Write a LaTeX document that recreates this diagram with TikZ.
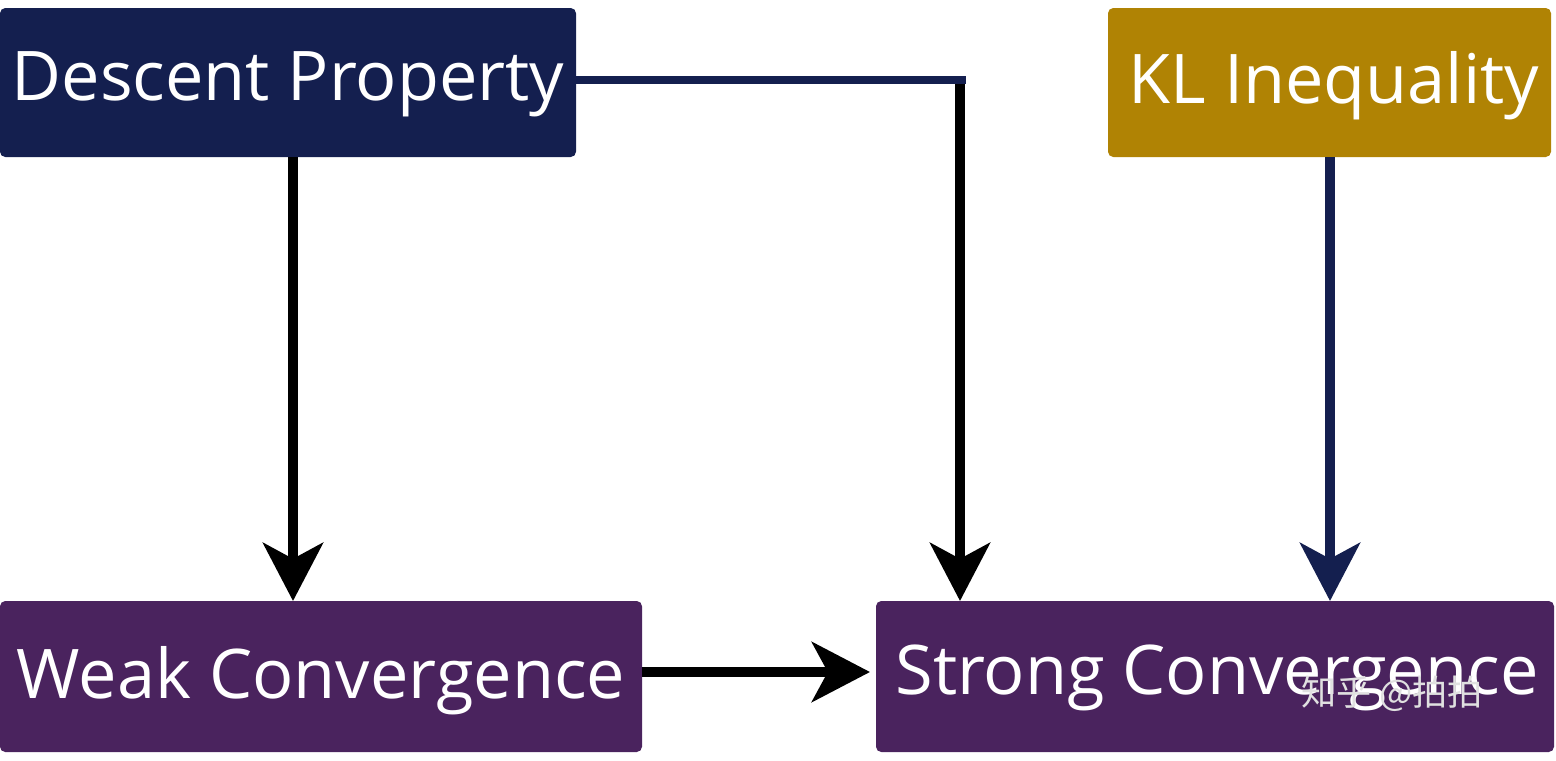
\documentclass[tikz,border=0pt]{standalone}
\usepackage{fontspec}
\setmainfont{Open Sans}
\newfontfamily\cjk{Noto Sans CJK SC}
\usetikzlibrary{arrows.meta}
\definecolor{navy}{HTML}{141F4F}
\definecolor{gold}{HTML}{B08304}
\definecolor{plum}{HTML}{4A235E}
\begin{document}
\begin{tikzpicture}[x=0.02cm,y=-0.02cm,
  lbl/.style={text=white,font=\fontsize{39}{44}\selectfont},
  arr/.style={line width=5.7pt,-{Stealth[width=34pt,length=33pt,inset=9pt]}}]
\useasboundingbox (0,0) rectangle (1556,761);
\fill[navy,rounded corners=3pt] (0,8) rectangle (576,157);
\node[lbl] (dp) at (288,84) {Descent Property};
\fill[gold,rounded corners=3pt] (1108,8) rectangle (1551,157);
\node[lbl] (kl) at (1334,86) {KL Inequality};
\fill[plum,rounded corners=3pt] (0,601) rectangle (642,752);
\node[lbl] (wc) at (321,681) {Weak Convergence};
\fill[plum,rounded corners=3pt] (876,601) rectangle (1554,752);
\node[lbl] (sc) at (1217,678) {Strong Convergence};
\node[text=black!12,font=\cjk\fontsize{20}{24}\selectfont] (wm) at (1392,694) {知乎 @拍拍};
\coordinate (dpb) at (293,157); \coordinate (wct) at (293,601);
\coordinate (dpr) at (576,80); \coordinate (cor) at (966,80);
\coordinate (vt) at (960,84); \coordinate (sct) at (960,601);
\coordinate (klb) at (1330,157); \coordinate (sct2) at (1330,601);
\coordinate (wcr) at (642,672); \coordinate (scl) at (870,672);
\draw[arr] (dpb) -- (wct);
\draw[navy,line width=4.6pt] (dpr) -- (cor);
\draw[arr] (vt) -- (sct);
\draw[arr,navy] (klb) -- (sct2);
\draw[arr] (wcr) -- (scl);
\end{tikzpicture}
\end{document}
